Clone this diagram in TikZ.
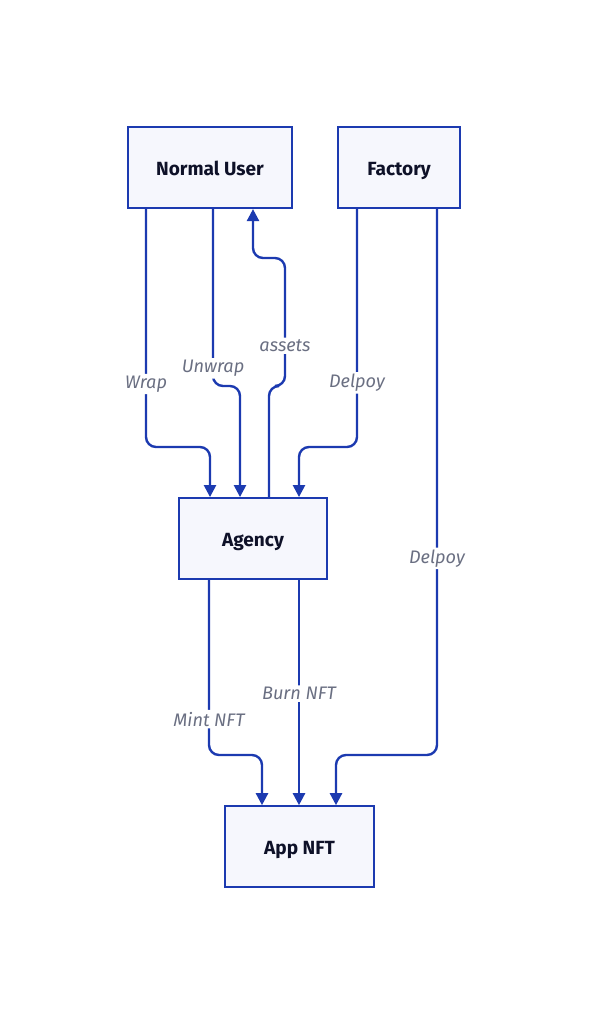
\documentclass[tikz,border=0pt]{standalone}
\usepackage{fontspec}
\setmainfont{Fira Sans}
\usetikzlibrary{arrows.meta,positioning}
\definecolor{flowblue}{HTML}{1C3AB0}
\definecolor{boxfill}{HTML}{F6F7FD}
\definecolor{boxtext}{HTML}{0E1128}
\definecolor{lblgray}{HTML}{6A6F82}

\begin{document}
\begin{tikzpicture}[x=0.75pt,y=-0.75pt,node distance=5mm,
  main node/.style={rectangle,draw=flowblue,line width=1.6pt,fill=boxfill,
    minimum height=60.75pt,text height=11.5pt,text depth=0pt,text=boxtext,
    font=\bfseries\fontsize{14.3}{16}\selectfont},
  edge/.style={draw=flowblue,line width=1.8pt,rounded corners=7.5pt,
    -{Triangle[length=9pt,width=9pt]}},
  lbl/.style={fill=white,text=lblgray,inner sep=1.5pt,font=\itshape\fontsize{13.6}{15}\selectfont}]
  \useasboundingbox (0,0) rectangle (592,1015);

  \node[main node,minimum width=123pt] (nu) at (210,167.5) {Normal User};
  \node[main node,minimum width=91.5pt,right=33pt of nu] (fac) {Factory};
  \node[main node,minimum width=111pt,below=216pt of nu,xshift=32.25pt] (ag) {Agency};
  \node[main node,minimum width=111.75pt,below=168.75pt of ag,xshift=34.9pt] (app) {App NFT};

  % user <-> agency
  \draw[edge] (146,0 |- nu.south) -- node[lbl,pos=0.735] {Wrap} (146,447) -- (210,447) -- (210,0 |- ag.north);
  \draw[edge] (213,0 |- nu.south) -- node[lbl,pos=0.9] {Unwrap} (213,386) -- (240,386) -- (240,0 |- ag.north);
  \draw[edge] (269,0 |- ag.north) -- (269,386) -- (285,386) -- node[lbl,pos=0.315] {assets} (285,258) -- (253,258) -- (253,0 |- nu.south);
  % factory
  \draw[edge] (357,0 |- fac.south) -- node[lbl,pos=0.73] {Delpoy} (357,447) -- (299,447) -- (299,0 |- ag.north);
  \draw[edge] (437,0 |- fac.south) -- node[lbl,pos=0.64] {Delpoy} (437,755) -- (336,755) -- (336,0 |- app.north);
  % agency -> app
  \draw[edge] (209,0 |- ag.south) -- node[lbl,pos=0.795] {Mint NFT} (209,755) -- (262,755) -- (262,0 |- app.north);
  \draw[edge] (299,0 |- ag.south) -- node[lbl,pos=0.504] {Burn NFT} (299,0 |- app.north);
\end{tikzpicture}
\end{document}
